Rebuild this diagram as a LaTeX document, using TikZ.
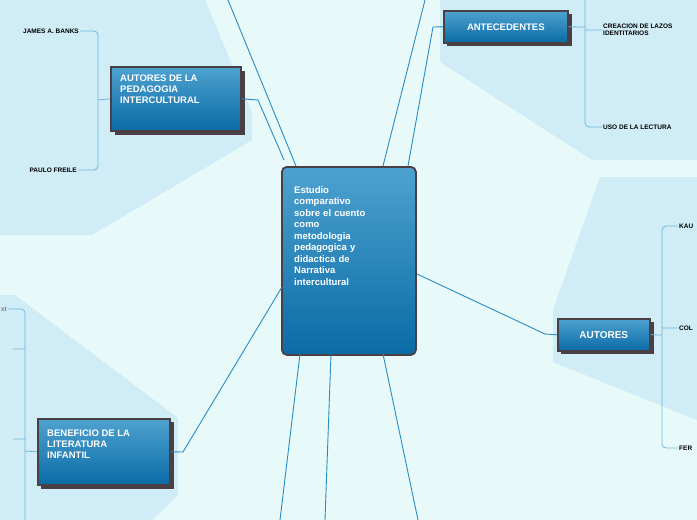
\documentclass[tikz,border=0pt]{standalone}
\usepackage{fontspec}
\setmainfont{Liberation Sans}
\usetikzlibrary{positioning}
\definecolor{bg}{HTML}{E8F9FA}
\definecolor{reg}{HTML}{D0ECF6}
\definecolor{ln}{HTML}{2A8CC4}
\definecolor{lnl}{HTML}{6FB8DE}
\definecolor{bord}{HTML}{4A4044}
\definecolor{top}{HTML}{4EA2CF}
\definecolor{bot}{HTML}{0A6BA6}
\tikzset{
 topic/.style={draw=bord,line width=1.6pt,top color=top,bottom color=bot,text=white,font=\bfseries\fontsize{9.5}{11}\selectfont,align=left,anchor=north west,inner sep=0pt},
 leaf/.style={font=\bfseries\fontsize{6.5}{7.5}\selectfont,align=left,anchor=west,inner sep=1pt},
 conn/.style={ln,line width=0.9pt},
 br/.style={lnl,line width=0.8pt,rounded corners=4pt}
}
\begin{document}
\begin{tikzpicture}[x=1pt,y=-1pt]
\useasboundingbox (0,0) rectangle (697,520);
\fill[bg] (0,0) rectangle (697,520);
\fill[reg] (0,0)--(205,0)--(252,112)--(252,140)--(92,235)--(0,235)--cycle;
\fill[reg] (440,0)--(697,0)--(697,160)--(592,160)--(440,62)--cycle;
\fill[reg] (600,177)--(697,177)--(697,420)--(553,362)--(553,310)--cycle;
\fill[reg] (0,295)--(15,295)--(178,418)--(178,495)--(152,520)--(0,520)--cycle;
% center
\node[draw=bord,line width=1.8pt,top color=top,bottom color=bot,rounded corners=5pt,minimum width=134pt,minimum height=188pt,anchor=north west,inner sep=0pt] (c) at (281,166) {};
\node[text=white,font=\bfseries\fontsize{9.5}{11.5}\selectfont,align=left,anchor=north west,text width=110pt,inner sep=0pt] (ct) at (294,186) {Estudio\\comparativo\\sobre el cuento\\como\\metodologia\\pedagogica y\\didactica de\\Narrativa\\intercultural};
% topics with shadows
\fill[bord] (115,71) rectangle (245,135);
\node[topic,minimum width=130pt,minimum height=64pt] (apb) at (110,66) {};
\node[text=white,font=\bfseries\fontsize{9.5}{11}\selectfont,align=left,anchor=north west,inner sep=0pt] at (120,75) {AUTORES DE LA\\PEDAGOGIA\\INTERCULTURAL};
\fill[bord] (447,14) rectangle (572,46);
\node[topic,minimum width=124pt,minimum height=32pt] (ant) at (443,10) {};
\node[text=white,font=\bfseries\fontsize{9.5}{11}\selectfont,anchor=center,inner sep=0pt] at (ant.center) {ANTECEDENTES};
\fill[bord] (561,322) rectangle (654,354);
\node[topic,minimum width=92pt,minimum height=32pt] (aut) at (557,318) {};
\node[text=white,font=\bfseries\fontsize{10}{11}\selectfont,anchor=center,inner sep=0pt] at (aut.center) {AUTORES};
\fill[bord] (41,422) rectangle (174,489);
\node[topic,minimum width=132pt,minimum height=66pt] (ben) at (37,418) {};
\node[text=white,font=\bfseries\fontsize{9.5}{11}\selectfont,align=left,anchor=north west,inner sep=0pt] at (47,430) {BENEFICIO DE LA\\LITERATURA\\INFANTIL};
% leaves
\node[leaf,anchor=east] (l1) at (80,31) {JAMES A. BANKS};
\node[leaf,anchor=east] (l2) at (78,170) {PAULO FREILE};
\node[leaf] (l3) at (602,30) {CREACION DE LAZOS\\IDENTITARIOS};
\node[leaf] (l4) at (602,127) {USO DE LA LECTURA};
\node[leaf] (l5) at (678,226) {KAU};
\node[leaf] (l6) at (678,328) {COL};
\node[leaf] (l7) at (678,448) {FER};
\node[leaf,anchor=east,text=gray] (l8) at (8,309) {xt};
\coordinate (e1) at (13,349); \coordinate (e2) at (13,439);
% branches
\draw[br] (apb.west) -- (98,100) (l1.east) -- (98,31) -- (98,170) -- (l2.east);
\draw[br] (ant.east) -- (585,27) (585,0) -- (585,127) -- (l4.west) (585,30) -- (l3.west);
\draw[br] (aut.east) -- (662,335) (l5.west) -- (662,226) -- (662,448) -- (l7.west) (662,328) -- (l6.west);
\draw[br] (ben.west) -- (25,451) (l8.east) -- (25,309) -- (25,520) (e1) -- (25,349) (e2) -- (25,439);
% connectors
\coordinate (t1) at (228,0); \coordinate (t2) at (425,0);
\coordinate (b1) at (280,520); \coordinate (b2) at (325,520); \coordinate (b3) at (418,520);
\draw[conn] (296,166) -- (t1);
\draw[conn] (383,166) -- (t2);
\draw[conn] (apb.east) -- (258,100) -- (284,160);
\draw[conn] (ant.west) -- (433,27) -- (408,166);
\draw[conn] (417,274) -- (545,334) -- (aut.west);
\draw[conn] (ben.east) -- (183,452) -- (282,287);
\draw[conn] (300,354) -- (b1);
\draw[conn] (331,354) -- (b2);
\draw[conn] (383,354) -- (b3);
\end{tikzpicture}
\end{document}
